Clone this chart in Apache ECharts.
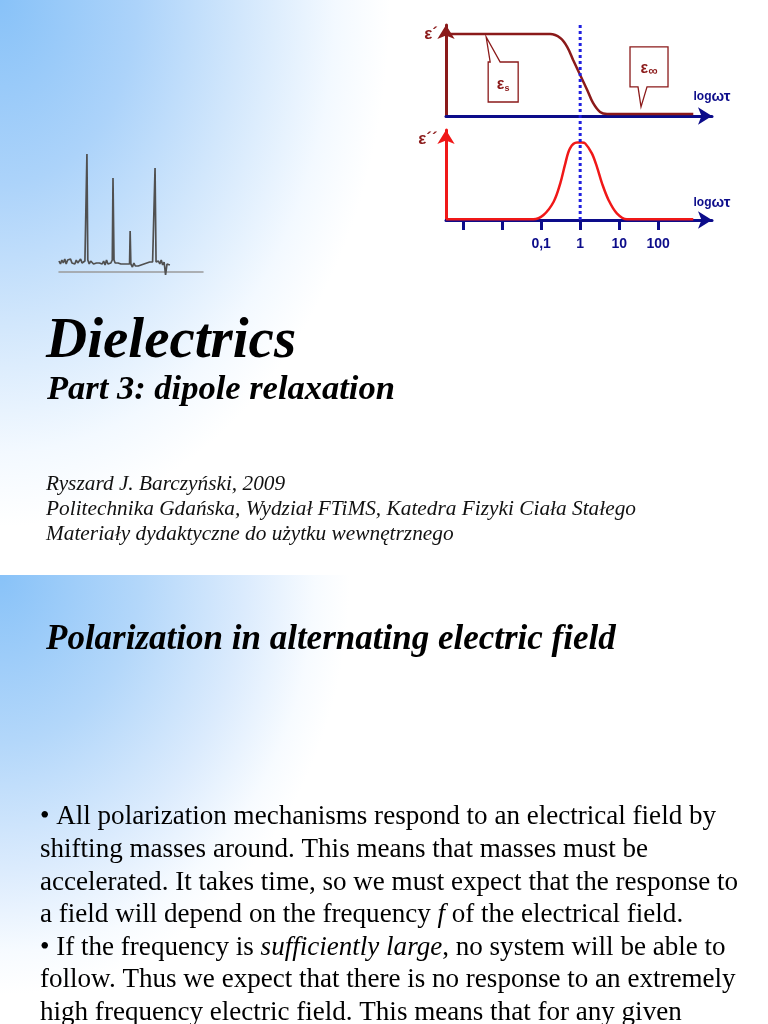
<!DOCTYPE html>
<html>
<head>
<meta charset="utf-8">
<script src="https://cdn.jsdelivr.net/npm/echarts@6/dist/echarts.min.js"></script>
<style>html,body{margin:0;padding:0;background:#fff}#main{width:768px;height:1024px}</style>
</head>
<body>
<div id="main"></div>
<script>
// ---- data ----
// real part epsilon' vs log(omega*tau)
const epsRealX = [-3.38, -0.77, -0.51, -0.33, -0.18, 0, 0.18, 0.33, 0.51, 0.69, 2.9];
const epsRealY = [9.0, 9.0, 8.57, 7.58, 6.15, 4.5, 2.86, 1.43, 0.44, 0.22, 0.22];
// imaginary part epsilon'' vs log(omega*tau)
const epsLossX = [-3.44, -1.2, -0.94, -0.68, -0.51, -0.38, -0.26, -0.08, 0.04, 0.13, 0.3, 0.43, 0.56, 0.73, 0.94, 1.2, 2.9];
const epsLossY = [0.08, 0.08, 0.56, 2.03, 4.07, 6.3, 7.97, 8.6, 8.6, 8.5, 7.4, 5.9, 4.07, 2.2, 0.74, 0.08, 0.08];
// log(omega*tau) axis
const tickValues = [-3, -2, -1, 0, 1, 2];
const labelValues = [-1, 0, 1, 2];
const labelTexts = ['0,1', '1', '10', '100'];
const relaxX = [0, 0];
const relaxY = [0, 1];
// decorative spectrum sketch (channel, intensity)
const specX = [0,1,2,3,4,5,6,7,8,9,10,11,12,13,14,15,16,17,18,18.8,19.4,20.0,21,22,23,24,25,26,27,28,29,30,31,32,33,34,35,36,37,37.5,38.2,39,40,41,42,43,44,45,46,47,48,49.0,49.4,49.9,51,52,53,54,55,56,57,58,59,60,61,62,63,64,65,66,66.7,67.4,68,69,70,71,72,73,74,75,76,77];
const specY = [11,8,12,9,13,8,12,10,13,9,11,8,12,9,10,13,9,10,11,12,118,12,8,11,9,8,7,9,8,9,7,8,11,7,12,8,10,9,12,94,12,9,8,9,7,8,9,8,10,8,9,8,41,8,5,9,6,7,6,8,7,6,8,7,9,8,10,9,10,11,104,10,9,11,8,12,7,10,-3,8,6,7];

const NAVY = '#0c0c8a', DARKRED = '#8b1a1a', RED = '#f01818', DOTBLUE = '#1f1fe0';
const serif = '"Liberation Serif", "Times New Roman", serif';
const sans = '"Liberation Sans", Arial, sans-serif';

const zip = (a, b) => a.map((v, i) => [v, b[i]]);

const chart = echarts.init(document.getElementById('main'));

const hiddenAxis = (extra) => Object.assign({
  type: 'value', show: false, splitLine: {show: false}
}, extra);

chart.setOption({
  backgroundColor: '#ffffff',
  animation: false,
  grid: [
    {left: 446, top: 25, width: 266, height: 91},
    {left: 446, top: 130, width: 266, height: 90},
    {left: 59, top: 150, width: 144, height: 122},
    {left: 446, top: 23, width: 266, height: 197}
  ],
  xAxis: [
    {type: 'value', gridIndex: 0, min: -3.44, max: 3.38,
      axisLine: {show: true, onZero: false, symbol: ['none', 'arrow'], symbolSize: [13, 14], lineStyle: {color: NAVY, width: 3}},
      axisTick: {show: false}, axisLabel: {show: false}, splitLine: {show: false}},
    {type: 'value', gridIndex: 1, min: -3.44, max: 3.38,
      axisLine: {show: true, onZero: false, symbol: ['none', 'arrow'], symbolSize: [13, 14], lineStyle: {color: NAVY, width: 3}},
      axisTick: {show: true, customValues: tickValues, length: 10, lineStyle: {color: NAVY, width: 3}},
      axisLabel: {show: true, customValues: labelValues, margin: 17,
        formatter: v => { const i = labelValues.indexOf(Math.round(v)); return i >= 0 ? labelTexts[i] : ''; },
        color: NAVY, fontFamily: sans, fontWeight: 'bold', fontSize: 14},
      splitLine: {show: false}},
    {type: 'value', gridIndex: 2, min: 0, max: 100,
      axisLine: {show: true, onZero: false, lineStyle: {color: '#9a9a9a', width: 1.5}},
      axisTick: {show: false}, axisLabel: {show: false}, splitLine: {show: false}},
    hiddenAxis({gridIndex: 3, min: -3.44, max: 3.38})
  ],
  yAxis: [
    {type: 'value', gridIndex: 0, min: 0, max: 10,
      axisLine: {show: true, onZero: false, symbol: ['none', 'arrow'], symbolSize: [13, 14], lineStyle: {color: DARKRED, width: 3}},
      axisTick: {show: false}, axisLabel: {show: false}, splitLine: {show: false}},
    {type: 'value', gridIndex: 1, min: 0, max: 10,
      axisLine: {show: true, onZero: false, symbol: ['none', 'arrow'], symbolSize: [13, 14], lineStyle: {color: RED, width: 3}},
      axisTick: {show: false}, axisLabel: {show: false}, splitLine: {show: false}},
    hiddenAxis({gridIndex: 2, min: 0, max: 122}),
    hiddenAxis({gridIndex: 3, min: 0, max: 1})
  ],
  series: [
    {type: 'line', xAxisIndex: 0, yAxisIndex: 0, data: zip(epsRealX, epsRealY), smooth: 0.35,
      showSymbol: false, lineStyle: {color: DARKRED, width: 2.5}, z: 3},
    {type: 'line', xAxisIndex: 1, yAxisIndex: 1, data: zip(epsLossX, epsLossY), smooth: 0.35,
      showSymbol: false, lineStyle: {color: RED, width: 2.5}, z: 3},
    {type: 'line', xAxisIndex: 2, yAxisIndex: 2, data: zip(specX, specY), clip: false,
      showSymbol: false, lineStyle: {color: '#505050', width: 1.7}},
    {type: 'line', xAxisIndex: 3, yAxisIndex: 3, data: zip(relaxX, relaxY),
      showSymbol: false, lineStyle: {color: DOTBLUE, width: 3, type: 'dotted'}, z: 4}
  ]
});

// ---- text measuring for condensed lines ----
const ctx = document.createElement('canvas').getContext('2d');
function textWidth(t, font) { ctx.font = font; return ctx.measureText(t).width; }

const bodyLines = [
  '{n|• All polarization mechanisms respond to an electrical field by}',
  '{n|shifting masses around. This means that masses must be}',
  '{n|accelerated. It takes time, so we must expect that the response to}',
  '{n|a field will depend on the frequency }{i|f}{n| of the electrical field.}',
  '{n|• If the frequency is }{i|sufficiently large}{n|, no system will be able to}',
  '{n|follow. Thus we expect that there is no response to an extremely}',
  '{n|high frequency electric field. This means that for any given}'
];
const authorLines = [
  'Ryszard J. Barczyński, 2009',
  'Politechnika Gdańska, Wydział FTiMS, Katedra Fizyki Ciała Stałego',
  'Materiały dydaktyczne do użytku wewnętrznego'
];
const bodyScale = 676 / textWidth('• All polarization mechanisms respond to an electrical field by', '28px ' + serif);
const authorScale = 590 / textWidth(authorLines[1], 'italic 21px ' + serif);

const graphics = [];
// slide backgrounds
graphics.push({type: 'rect', z: -10, x: 0, y: 0, scaleY: 1.35, originX: 0, originY: 0,
  shape: {x: 0, y: 0, width: 768, height: 426},
  style: {fill: {type: 'radial', x: 0, y: 0, r: 390, global: true, colorStops: [
    {offset: 0, color: '#88c2f8'}, {offset: 0.35, color: '#acd3fa'}, {offset: 0.62, color: '#d2e7fc'},
    {offset: 0.86, color: '#f3f9ff'}, {offset: 1, color: '#ffffff'}]}}});
graphics.push({type: 'rect', z: -10, x: 0, y: 575, scaleY: 1.2, originX: 0, originY: 0,
  shape: {x: 0, y: 0, width: 768, height: 375},
  style: {fill: {type: 'radial', x: 0, y: 0, r: 350, global: true, colorStops: [
    {offset: 0, color: '#88c2f8'}, {offset: 0.4, color: '#b3d7fa'}, {offset: 0.7, color: '#dbebfd'},
    {offset: 0.9, color: '#f7fbff'}, {offset: 1, color: '#ffffff'}]}}});

// titles
graphics.push({type: 'text', x: 46, y: 342, style: {text: 'Dielectrics', font: 'italic bold 57px ' + serif, fill: '#000', verticalAlign: 'middle'}});
graphics.push({type: 'text', x: 47, y: 390, style: {text: 'Part 3: dipole relaxation', font: 'italic bold 34.5px ' + serif, fill: '#000', verticalAlign: 'middle'}});
authorLines.forEach((t, i) => graphics.push({type: 'text', x: 46, y: 484 + i * 25, scaleX: authorScale,
  style: {text: t, font: 'italic 21px ' + serif, fill: '#111', verticalAlign: 'middle'}}));
graphics.push({type: 'text', x: 46, y: 640, style: {text: 'Polarization in alternating electric field', font: 'italic bold 35px ' + serif, fill: '#000', verticalAlign: 'middle'}});
bodyLines.forEach((t, i) => graphics.push({type: 'text', x: 40, y: 817 + i * 32.6, scaleX: bodyScale,
  style: {text: t, verticalAlign: 'middle', rich: {
    n: {fontFamily: serif, fontSize: 28, fill: '#000'},
    i: {fontFamily: serif, fontSize: 28, fontStyle: 'italic', fill: '#000'}}}}));

// axis names
graphics.push({type: 'text', x: 431, y: 34, style: {text: 'ε´', font: 'bold 17px ' + sans, fill: DARKRED, align: 'center', verticalAlign: 'middle'}});
graphics.push({type: 'text', x: 428, y: 139, style: {text: 'ε´´', font: 'bold 17px ' + sans, fill: DARKRED, align: 'center', verticalAlign: 'middle'}});
[97, 203].forEach(yy => graphics.push({type: 'text', x: 712, y: yy, style: {
  text: '{a|log}{b|ωτ}', align: 'center', verticalAlign: 'middle',
  rich: {a: {fontFamily: sans, fontWeight: 'bold', fontSize: 12, fill: NAVY},
         b: {fontFamily: sans, fontWeight: 'bold', fontSize: 15, fill: NAVY}}}}));

// callouts anchored on the data
const tipS = chart.convertToPixel({gridIndex: 0}, [-2.41, 8.68]);
const tipInf = chart.convertToPixel({gridIndex: 0}, [1.56, 1.0]);
const P = (p, dx, dy) => [p[0] + dx, p[1] + dy];
graphics.push({type: 'polygon', z: 5, shape: {points: [
  P(tipS, 2, 25), P(tipS, 4, 25), P(tipS, 0, 0), P(tipS, 14, 25), P(tipS, 32, 25), P(tipS, 32, 65), P(tipS, 2, 65)]},
  style: {fill: '#fff', stroke: DARKRED, lineWidth: 1.3}});
graphics.push({type: 'text', z: 6, x: tipS[0] + 17, y: tipS[1] + 48, style: {
  text: '{e|ε}{s|s}', align: 'center', verticalAlign: 'middle',
  rich: {e: {fontFamily: sans, fontWeight: 'bold', fontSize: 16, fill: DARKRED},
         s: {fontFamily: sans, fontWeight: 'bold', fontSize: 9, fill: DARKRED, verticalAlign: 'bottom', padding: [8, 0, 0, 0]}}}});
graphics.push({type: 'polygon', z: 5, shape: {points: [
  P(tipInf, -11, -60), P(tipInf, 27, -60), P(tipInf, 27, -20), P(tipInf, 6, -20), P(tipInf, 0, 0), P(tipInf, -3, -20), P(tipInf, -11, -20)]},
  style: {fill: '#fff', stroke: DARKRED, lineWidth: 1.3}});
graphics.push({type: 'text', z: 6, x: tipInf[0] + 8, y: tipInf[1] - 38, style: {
  text: '{e|ε}{s|∞}', align: 'center', verticalAlign: 'middle',
  rich: {e: {fontFamily: sans, fontWeight: 'bold', fontSize: 16, fill: DARKRED},
         s: {fontFamily: sans, fontWeight: 'bold', fontSize: 13, fill: DARKRED, padding: [6, 0, 0, 0]}}}});

chart.setOption({graphic: graphics});
</script>
</body>
</html>
